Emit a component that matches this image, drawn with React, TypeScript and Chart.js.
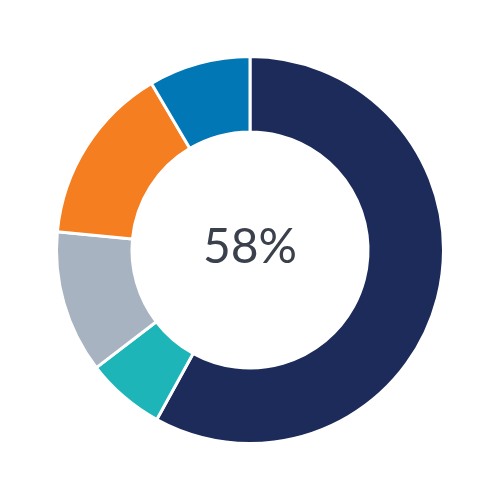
import { useEffect, useRef } from "react";
import { Chart, registerables } from "chart.js";

Chart.register(...registerables);

const labels = ["Navy", "Teal", "Gray", "Orange", "Blue"];
const values = [58, 6.6, 11.9, 15, 8.5];
const colors = ["#1c2b59", "#1db5b8", "#a8b3c1", "#f47e20", "#0277b5"];
const centerLabel = "58%";

const centerText = {
  id: "centerText",
  afterDraw(chart: Chart) {
    const { ctx, chartArea } = chart;
    const x = (chartArea.left + chartArea.right) / 2;
    const y = (chartArea.top + chartArea.bottom) / 2;
    ctx.save();
    ctx.font = "48px Lato";
    ctx.fillStyle = "#3a414c";
    ctx.textAlign = "center";
    ctx.textBaseline = "middle";
    ctx.fillText(centerLabel, x, y - 2);
    ctx.restore();
  },
};

export default function App() {
  const canvasRef = useRef<HTMLCanvasElement | null>(null);

  useEffect(() => {
    if (!canvasRef.current) return;
    const chart = new Chart(canvasRef.current, {
      type: "doughnut",
      data: {
        labels,
        datasets: [
          {
            data: values,
            backgroundColor: colors,
            borderColor: "#ffffff",
            borderWidth: 3,
          },
        ],
      },
      options: {
        animation: false,
        responsive: true,
        maintainAspectRatio: false,
        cutout: "61%",
        layout: { padding: 47 },
        plugins: {
          legend: { display: false },
          tooltip: { enabled: false },
        },
      },
      plugins: [centerText],
    });
    return () => chart.destroy();
  }, []);

  return (
    <div style={{ width: 484, height: 484, position: "relative" }}>
      <canvas ref={canvasRef} />
    </div>
  );
}
